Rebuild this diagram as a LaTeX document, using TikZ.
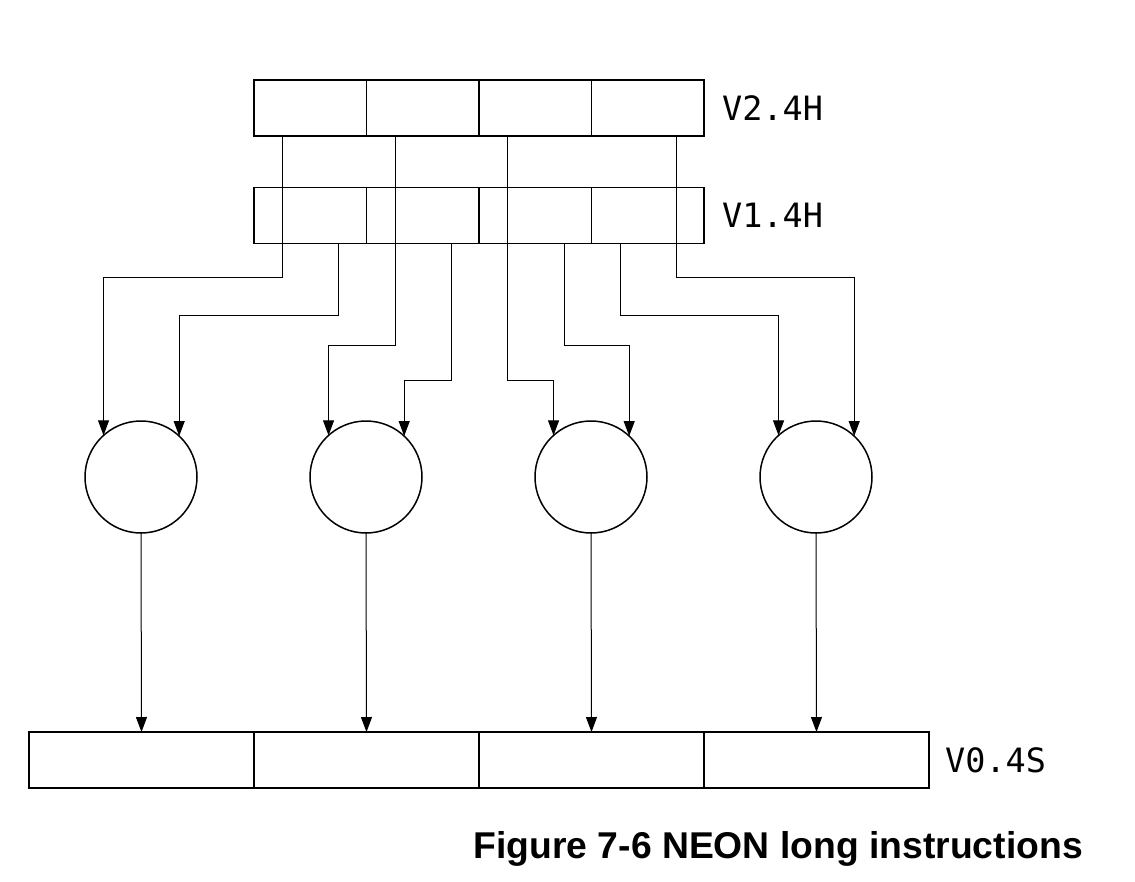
\documentclass[tikz,border=0pt]{standalone}
\usepackage{fontspec}
\setmainfont{Liberation Sans}
\newfontfamily\monof{DejaVu Sans Mono}
\usetikzlibrary{arrows.meta}
\begin{document}
\begin{tikzpicture}[x=1pt,y=-1pt,
  cell/.style={draw,line width=1.5pt,minimum height=56pt,inner sep=0pt,outer sep=0pt},
  sc/.style={cell,minimum width=112.5pt},
  bc/.style={cell,minimum width=225pt},
  op/.style={draw,line width=1.5pt,circle,minimum size=112pt,inner sep=0pt,outer sep=0pt},
  lab/.style={anchor=west,font=\monof\fontsize{33.5}{33.5}\selectfont,inner sep=0pt},
  ln/.style={line width=1pt},
  ar/.style={ln,-{Triangle[width=11pt,length=15pt]}}]
\useasboundingbox (0,0) rectangle (1135,881);
\foreach \i in {1,...,4}{
  \node[sc] (a\i) at ({254+112.5*(\i-0.5)},108) {};
  \node[sc] (b\i) at ({254+112.5*(\i-0.5)},215.5) {};
  \node[op] (c\i) at ({141+225*(\i-1)},477) {};
  \node[bc] (d\i) at ({29+225*(\i-0.5)},760) {};
}
\node[lab] (la) at (722,108) {V2.4H};
\node[lab] (lb) at (722,215.5) {V1.4H};
\node[lab] (ld) at (945,760) {V0.4S};
% circle 1
\coordinate (p1) at (282,136); \coordinate (q1) at (338,243);
\draw[ar] (p1) -- (282,277) -| (c1.132.7);
\draw[ar] (q1) -- (338,315) -| (c1.47.3);
% circle 2
\coordinate (p2) at (395,136); \coordinate (q2) at (451,243);
\draw[ar] (p2) -- (395,345) -| (c2.132.7);
\draw[ar] (q2) -- (451,380) -| (c2.47.3);
% circle 3
\coordinate (p3) at (507,136); \coordinate (q3) at (564,243);
\draw[ar] (p3) -- (507,380) -| (c3.132.7);
\draw[ar] (q3) -- (564,345) -| (c3.47.3);
% circle 4
\coordinate (p4) at (676,136); \coordinate (q4) at (620,243);
\draw[ar] (p4) -- (676,277) -| (c4.47.3);
\draw[ar] (q4) -- (620,315) -| (c4.132.7);
\foreach \i in {1,...,4}{\draw[ar] (c\i.south) -- (d\i.north);}
\node[anchor=base east,font=\bfseries\fontsize{37.3}{37.3}\selectfont,inner sep=0pt] (cap) at (1083,858) {Figure 7-6 NEON long instructions};
\end{tikzpicture}
\end{document}
